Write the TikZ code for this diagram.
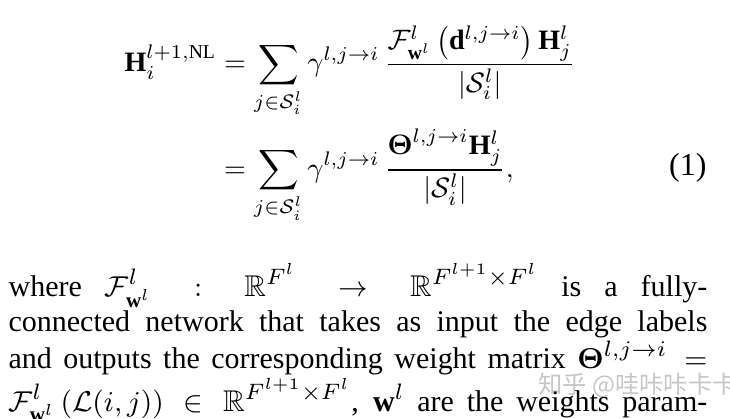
\documentclass[tikz,border=0pt,10pt]{standalone}
\usepackage{amsmath,amssymb}
\usepackage{fontspec}
\setmainfont{Liberation Serif}
\newfontfamily\cjk{Noto Sans CJK SC}
\begin{document}
\begin{tikzpicture}[x=1pt,y=1pt,
  eqn/.style={inner sep=0pt,anchor=center},
  para/.style={inner sep=0pt,anchor=north west,text width=219pt,align=justify},
  wm/.style={inner sep=0pt,text=gray,opacity=0.45,font=\cjk\fontsize{7.6}{8}\selectfont}]
\useasboundingbox (0,0) rectangle (228.8,-131.3);
\clip (0,0) rectangle (228.8,-131.3);
\node[eqn] (eq) at (109.7,-39) {\scalebox{0.88}{$\displaystyle
\begin{aligned}
\mathbf{H}_i^{l+1,\mathrm{NL}} &= \sum_{j\in\mathcal{S}_i^l}\gamma^{l,j\to i}\,\frac{\mathcal{F}^l_{\mathbf{w}^l}\left(\mathbf{d}^{l,j\to i}\right)\mathbf{H}_j^l}{|\mathcal{S}_i^l|}\\
&= \sum_{j\in\mathcal{S}_i^l}\gamma^{l,j\to i}\,\frac{\boldsymbol{\Theta}^{l,j\to i}\mathbf{H}_j^l}{|\mathcal{S}_i^l|},
\end{aligned}$}};
\node[inner sep=0pt,anchor=east] (num) at (221.6,-52.7) {(1)};
\node[para] (p) at (2.5,-82.5) {\fontsize{9.4}{9.4}\selectfont\parfillskip=0pt where $\mathcal{F}^l_{\mathbf{w}^l} : \mathbb{R}^{F^l} \to \mathbb{R}^{F^{l+1}\times F^l}$ is a fully-connected network that takes as input the edge labels and outputs the corresponding weight matrix $\boldsymbol{\Theta}^{l,j\to i} = \mathcal{F}^l_{\mathbf{w}^l}\left(\mathcal{L}(i,j)\right) \in \mathbb{R}^{F^{l+1}\times F^l}$, $\mathbf{w}^l$ are the weights parameterizing network $\mathcal{F}^l$, and $\mathcal{S}^l_i$ is the set of neighbors of node $i$ in the graph $\mathcal{G}^l$. The scalar $\gamma^{j\to i}$ is an\par};
\node[wm,anchor=west] (w) at (168.6,-120.7) {知乎 @哇咔咔卡卡};
\end{tikzpicture}
\end{document}
